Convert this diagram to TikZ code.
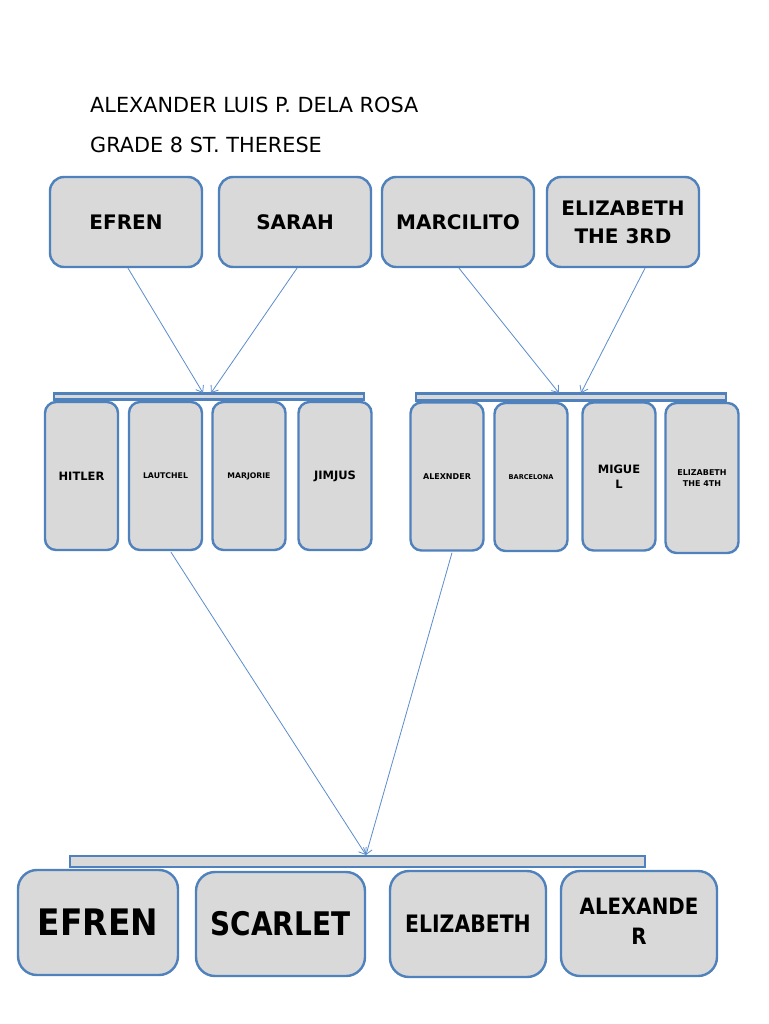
\documentclass[tikz,border=0pt]{standalone}
\usepackage{fontspec}
\setmainfont{DejaVu Sans}
\usetikzlibrary{arrows.meta,calc}
\definecolor{bord}{RGB}{79,129,189}
\definecolor{lnk}{RGB}{91,141,205}
\definecolor{boxg}{RGB}{217,217,217}
\tikzset{
  box/.style={draw=bord, fill=boxg, line width=2.4pt, rounded corners=14pt, inner sep=0pt, align=center, font=\bfseries},
  midbox/.style={box, rounded corners=11pt, minimum width=73pt, minimum height=148pt},
  topbox/.style={box, minimum width=152pt, minimum height=90pt, font=\bfseries\fontsize{20}{28}\selectfont},
  botbox/.style={box, rounded corners=19pt},
  bar/.style={draw=bord, fill=boxg, line width=2.4pt, inner sep=0pt},
  link/.style={draw=lnk, line width=0.8pt, -{Straight Barb[length=6pt,width=9pt]}},
  ttl/.style={anchor=base west, inner sep=0pt, font=\fontsize{20.8}{24}\selectfont}
}
\begin{document}
\begin{tikzpicture}[x=1pt,y=-1pt]
\useasboundingbox[fill=white] (0,0) rectangle (768,1024);
% titles
\node[ttl] (t1) at (90,112.5) {ALEXANDER LUIS P. DELA ROSA};
\node[ttl] (t2) at (90,152.5) {GRADE 8 ST. THERESE};
% top row
\node[topbox] (efren) at (126,222) {EFREN};
\node[topbox] (sarah) at (295,222) {SARAH};
\node[topbox] (marc) at (458,222) {MARCILITO};
\node[topbox] (eliz3) at (623,222) {ELIZABETH\\THE 3RD};
% middle row left
\node[midbox, font=\bfseries\fontsize{11.5}{14}\selectfont] (hitler) at (81.5,476) {HITLER};
\node[midbox, font=\bfseries\fontsize{7.8}{10}\selectfont] (lautchel) at (165.5,476) {LAUTCHEL};
\node[midbox, font=\bfseries\fontsize{7.7}{10}\selectfont] (marjorie) at (249,476) {MARJORIE};
\node[midbox, font=\bfseries\fontsize{11.5}{14}\selectfont] (jimjus) at (335,476) {JIMJUS};
% middle row right
\node[midbox, font=\bfseries\fontsize{8}{10}\selectfont] (alexnder) at (447,476.5) {ALEXNDER};
\node[midbox, font=\bfseries\fontsize{6.6}{9}\selectfont] (barcelona) at (531,477) {BARCELONA};
\node[midbox, font=\bfseries\fontsize{11.5}{15}\selectfont] (miguel) at (619,476.5) {MIGUE\\L};
\node[midbox, minimum height=150pt, font=\bfseries\fontsize{8}{11}\selectfont] (eliz4) at (702,478) {ELIZABETH\\THE 4TH};
% bars
\node[bar, minimum width=310pt, minimum height=6pt] (barL) at (209,396.5) {};
\node[bar, minimum width=310pt, minimum height=7pt] (barR) at (571,397) {};
\node[bar, minimum width=575pt, minimum height=11pt] (barB) at (357.5,861.5) {};
% bottom row
\node[botbox, minimum width=160pt, minimum height=105pt] (efrenB) at (98,922.5) {\scalebox{0.9}[1]{\fontsize{36.5}{40}\selectfont EFREN}};
\node[botbox, minimum width=169pt, minimum height=104pt] (scarlet) at (280.5,924) {\scalebox{0.86}[1]{\fontsize{32.5}{36}\selectfont SCARLET}};
\node[botbox, minimum width=156pt, minimum height=106pt] (elizB) at (468,924) {\scalebox{0.85}[1]{\fontsize{24}{28}\selectfont ELIZABETH}};
\node[botbox, minimum width=156pt, minimum height=105pt] (alexB) at (639,923.5) {\scalebox{0.88}[1]{\fontsize{22.5}{30}\selectfont\begin{tabular}{@{}c@{}}ALEXANDE\\R\end{tabular}}};
% arrow targets
\coordinate (a1) at (203,393);
\coordinate (a2) at (211,393);
\coordinate (a3) at (559,393);
\coordinate (a4) at (581,393);
\coordinate (m) at (366,855);
% connectors
\draw[link] ($(efren.south)+(2,0)$) -- (a1);
\draw[link] ($(sarah.south)+(2,0)$) -- (a2);
\draw[link] ($(marc.south)+(1,0)$) -- (a3);
\draw[link] ($(eliz3.south)+(22,0)$) -- (a4);
\draw[link] ($(lautchel.south)+(5.5,1)$) -- (m);
\draw[link] ($(alexnder.south)+(5,1)$) -- (m);
\end{tikzpicture}
\end{document}
